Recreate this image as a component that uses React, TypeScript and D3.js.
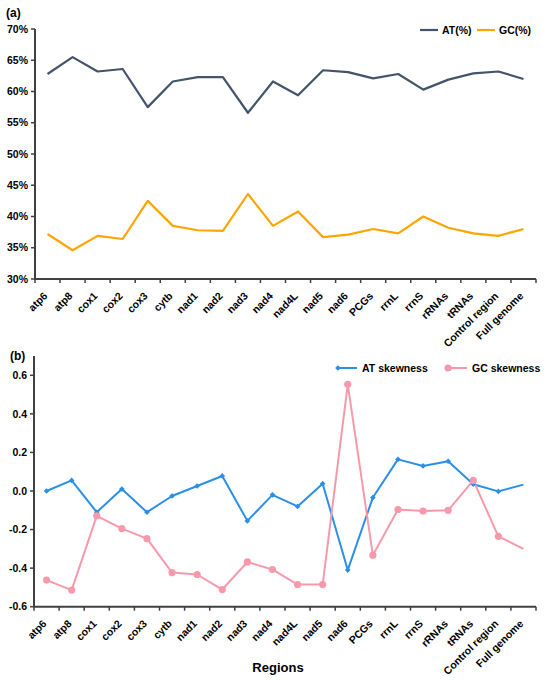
import * as d3 from "d3";

// regions on the x axis (shared by both panels)
const regions = [
  "atp6", "atp8", "cox1", "cox2", "cox3", "cytb", "nad1", "nad2", "nad3", "nad4",
  "nad4L", "nad5", "nad6", "PCGs", "rrnL", "rrnS", "rRNAs", "tRNAs", "Control region", "Full genome",
];

// panel (a): base composition in %
const atPct = [62.8, 65.5, 63.2, 63.6, 57.5, 61.6, 62.3, 62.3, 56.6, 61.6, 59.4, 63.4, 63.1, 62.1, 62.8, 60.3, 61.9, 62.9, 63.2, 62.0];
const gcPct = [37.2, 34.6, 36.9, 36.4, 42.5, 38.5, 37.8, 37.7, 43.6, 38.5, 40.8, 36.7, 37.1, 38.0, 37.3, 40.0, 38.2, 37.3, 36.9, 38.0];

// panel (b): skewness
const atSkew = [0.0, 0.055, -0.11, 0.01, -0.11, -0.026, 0.026, 0.078, -0.155, -0.02, -0.08, 0.038, -0.41, -0.034, 0.164, 0.13, 0.154, 0.035, -0.002, 0.033];
const gcSkew = [-0.462, -0.514, -0.129, -0.195, -0.247, -0.423, -0.433, -0.511, -0.368, -0.407, -0.485, -0.485, 0.553, -0.333, -0.096, -0.104, -0.1, 0.055, -0.235, -0.30];

const pctTicks = [30, 35, 40, 45, 50, 55, 60, 65, 70];
const skewTicks = [-0.6, -0.4, -0.2, 0.0, 0.2, 0.4, 0.6];

const W = 550;
const H = 681;
const FONT = "'Liberation Sans', Arial, sans-serif";
const AXIS = "#404040";

const C_AT = "#44546A";
const C_GC = "#FFA500";
const C_ATS = "#2B8FE6";
const C_GCS = "#F899AB";

type PanelProps = {
  yScale: d3.ScaleLinear<number, number>;
  xScale: d3.ScaleBand<string>;
  ticks: number[];
  fmt: (v: number) => string;
};

function Axes({ yScale, xScale, ticks, fmt }: PanelProps) {
  const [x0, x1] = xScale.range();
  const [yb, yt] = yScale.range();
  const bounds = [...regions.map((r) => xScale(r)!), x1];
  return (
    <g>
      <line x1={x0} x2={x0} y1={yt} y2={yb} stroke={AXIS} strokeWidth={2} />
      <line x1={x0 - 1} x2={x1} y1={yb} y2={yb} stroke={AXIS} strokeWidth={2} />
      {ticks.map((t) => (
        <g key={t}>
          <line x1={x0 - 4} x2={x0} y1={yScale(t)} y2={yScale(t)} stroke={AXIS} strokeWidth={1.5} />
          <text
            x={x0 - 7}
            y={yScale(t)}
            dy="0.35em"
            textAnchor="end"
            fontSize={10.5}
            fontWeight="bold"
            fontFamily={FONT}
          >
            {fmt(t)}
          </text>
        </g>
      ))}
      {bounds.map((b, i) => (
        <line key={i} x1={b} x2={b} y1={yb} y2={yb + 4} stroke={AXIS} strokeWidth={1.5} />
      ))}
      {regions.map((r) => {
        const cx = xScale(r)! + xScale.bandwidth() / 2;
        const ty = yb + 15;
        return (
          <text
            key={r}
            transform={`translate(${cx - 2},${ty}) rotate(-45)`}
            dy="0.35em"
            textAnchor="end"
            fontSize={10.5}
            fontWeight="bold"
            fontFamily={FONT}
          >
            {r}
          </text>
        );
      })}
    </g>
  );
}

export default function App() {
  // === panel (a) ===
  const xa = d3.scaleBand<string>().domain(regions).range([35, 536]);
  const ya = d3.scaleLinear().domain([30, 70]).range([279, 29]);
  const cxa = (i: number) => xa(regions[i])! + xa.bandwidth() / 2;
  const lineA = (vals: number[]) =>
    d3.line<number>().x((_d, i) => cxa(i)).y((d) => ya(d))(vals) || "";

  // === panel (b) ===
  const xb = d3.scaleBand<string>().domain(regions).range([34, 536]);
  const yb = d3.scaleLinear().domain([-0.6, 0.7]).range([606.7, 356]);
  const cxb = (i: number) => xb(regions[i])! + xb.bandwidth() / 2;
  const lineB = (vals: number[]) =>
    d3.line<number>().x((_d, i) => cxb(i)).y((d) => yb(d))(vals) || "";

  // the last point of each skew series is drawn without a marker
  const markIdx = d3.range(regions.length - 1);

  return (
    <svg
      width={W}
      height={H}
      viewBox={`0 0 ${W} ${H}`}
      style={{ position: "absolute", left: 0, top: 0, background: "#fff" }}
    >
      {/* (a) AT / GC content */}
      <text x={6} y={17} fontSize={12} fontWeight="bold" fontFamily={FONT}>(a)</text>
      <Axes yScale={ya} xScale={xa} ticks={pctTicks} fmt={(v) => `${v}%`} />
      <path d={lineA(atPct)} fill="none" stroke={C_AT} strokeWidth={2.2} strokeLinejoin="round" />
      <path d={lineA(gcPct)} fill="none" stroke={C_GC} strokeWidth={2.2} strokeLinejoin="round" />

      <g fontFamily={FONT} fontWeight="bold" fontSize={10.5}>
        <line x1={420} x2={438} y1={30} y2={30} stroke={C_AT} strokeWidth={2.2} />
        <text x={442} y={30} dy="0.35em">AT(%)</text>
        <line x1={477} x2={495} y1={30} y2={30} stroke={C_GC} strokeWidth={2.2} />
        <text x={499} y={30} dy="0.35em">GC(%)</text>
      </g>

      {/* (b) skewness */}
      <text x={10} y={360} fontSize={12} fontWeight="bold" fontFamily={FONT}>(b)</text>
      <Axes yScale={yb} xScale={xb} ticks={skewTicks} fmt={(v) => v.toFixed(1)} />
      <path d={lineB(atSkew)} fill="none" stroke={C_ATS} strokeWidth={2} strokeLinejoin="round" />
      <path d={lineB(gcSkew)} fill="none" stroke={C_GCS} strokeWidth={2} strokeLinejoin="round" />
      {markIdx.map((i) => (
        <rect
          key={`a${i}`}
          x={cxb(i) - 2}
          y={yb(atSkew[i]) - 2}
          width={4}
          height={4}
          fill={C_ATS}
          transform={`rotate(45 ${cxb(i)} ${yb(atSkew[i])})`}
        />
      ))}
      {markIdx.map((i) => (
        <circle key={`g${i}`} cx={cxb(i)} cy={yb(gcSkew[i])} r={3.6} fill={C_GCS} />
      ))}

      <g fontFamily={FONT} fontWeight="bold" fontSize={10.5}>
        <line x1={338} x2={357} y1={368} y2={368} stroke={C_ATS} strokeWidth={2} />
        <rect x={336} y={366} width={4} height={4} fill={C_ATS} transform="rotate(45 338 368)" />
        <text x={362} y={368} dy="0.35em">AT skewness</text>
        <line x1={448} x2={467} y1={368} y2={368} stroke={C_GCS} strokeWidth={2} />
        <circle cx={448} cy={368} r={3.6} fill={C_GCS} />
        <text x={472} y={368} dy="0.35em">GC skewness</text>
      </g>

      <text x={278} y={672} textAnchor="middle" fontSize={13} fontWeight="bold" fontFamily={FONT}>
        Regions
      </text>
    </svg>
  );
}
